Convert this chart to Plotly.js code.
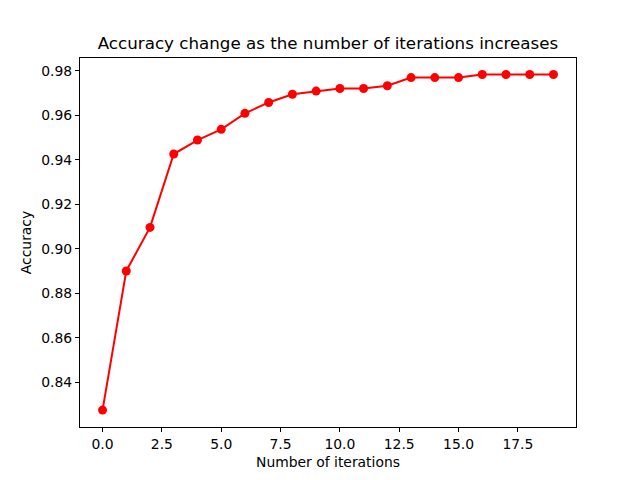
<!DOCTYPE html>
<html>
<head>
<meta charset="utf-8">
<script src="https://cdn.plot.ly/plotly-3.0.1.min.js"></script>
<style>html,body{margin:0;padding:0;background:#fff;}#chart{width:640px;height:480px;}</style>
</head>
<body>
<div id="chart"></div>
<script>
const iterations = [0,1,2,3,4,5,6,7,8,9,10,11,12,13,14,15,16,17,18,19];
const accuracy = [0.8274,0.8900,0.9096,0.9426,0.9489,0.9537,0.9609,0.9658,0.9695,0.9709,0.9721,0.9721,0.9733,0.9770,0.9770,0.9770,0.9784,0.9784,0.9784,0.9784];
const xTicks = [0,2.5,5,7.5,10,12.5,15,17.5];
const xTickText = ['0.0','2.5','5.0','7.5','10.0','12.5','15.0','17.5'];
const yTicks = [0.84,0.86,0.88,0.90,0.92,0.94,0.96,0.98];
const yTickText = ['0.84','0.86','0.88','0.90','0.92','0.94','0.96','0.98'];

const font = 'DejaVu Sans, sans-serif';
Plotly.newPlot('chart', [{
  x: iterations, y: accuracy, type: 'scatter', mode: 'lines+markers',
  line: {color: '#ff0000', width: 2}, marker: {color: '#ff0000', size: 9},
  cliponaxis: false
}], {
  width: 640, height: 480,
  margin: {l: 80, r: 64, t: 58, b: 53},
  paper_bgcolor: '#fff', plot_bgcolor: '#fff',
  font: {family: font, size: 13.9, color: '#000'},
  showlegend: false,
  title: {text: 'Accuracy change as the number of iterations increases', font: {family: font, size: 16.7, color: '#000'}, xref: 'paper', x: 0.5, xanchor: 'center', yref: 'container', y: 1 - 43/480, yanchor: 'middle'},
  xaxis: {
    range: [-0.95, 19.95], tickvals: xTicks, ticktext: xTickText,
    showgrid: false, zeroline: false, showline: true, linecolor: '#000', linewidth: 1, mirror: true,
    ticks: 'outside', ticklen: 4, tickcolor: '#000', tickwidth: 1,
    tickfont: {family: font, size: 13.9, color: '#000'},
    title: {text: 'Number of iterations', font: {family: font, size: 13.9, color: '#000'}, standoff: 6}
  },
  yaxis: {
    range: [0.8198, 0.9858], tickvals: yTicks, ticktext: yTickText,
    showgrid: false, zeroline: false, showline: true, linecolor: '#000', linewidth: 1, mirror: true,
    ticks: 'outside', ticklen: 4, tickcolor: '#000', tickwidth: 1,
    tickfont: {family: font, size: 13.9, color: '#000'},
    title: {text: 'Accuracy', font: {family: font, size: 13.9, color: '#000'}, standoff: 6}
  }
}, {staticPlot: true});
</script>
</body>
</html>
